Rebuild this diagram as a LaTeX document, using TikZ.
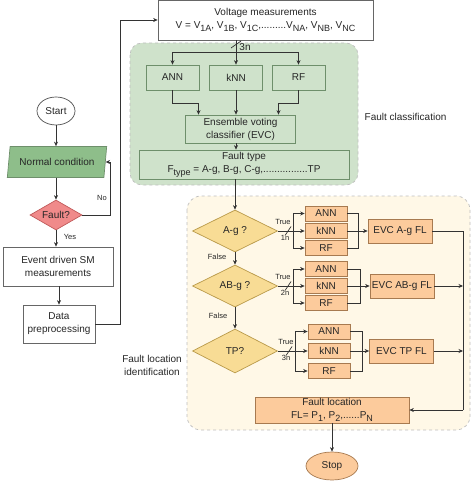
\documentclass[tikz,border=0pt]{standalone}
\usepackage{fontspec}
\setmainfont{Liberation Sans}
\usepackage{tikz}
\usetikzlibrary{shapes.geometric}
\usetikzlibrary{arrows.meta}
\usepackage{xcolor}

\definecolor{grnfill}{HTML}{CFE2CB}
\definecolor{grnline}{HTML}{6E8F6B}
\definecolor{grndark}{HTML}{8EBE8A}
\definecolor{ylwbg}{HTML}{FFF8E7}
\definecolor{ylwfill}{HTML}{F8DC95}
\definecolor{ylwline}{HTML}{B99A4A}
\definecolor{orgfill}{HTML}{FCCB9C}
\definecolor{orgline}{HTML}{A77A50}
\definecolor{redfill}{HTML}{F08A8A}
\definecolor{redline}{HTML}{C05A5A}

\newcommand{\lowsub}[1]{\raisebox{-0.5ex}{\fontsize{9}{9}\selectfont #1}}

\begin{document}
\begin{tikzpicture}[x=1pt, y=-1pt, line width=0.7pt, font=\fontsize{10}{13}\selectfont, text=black!85,
    arr/.style={draw=black!80, -{Stealth[length=4.5pt,width=4pt]}},
    ln/.style={draw=black!80},
    wbox/.style={draw=black!60, fill=white, align=center, inner sep=1pt},
    gbox/.style={draw=grnline, fill=grnfill, align=center, inner sep=1pt},
    obox/.style={draw=orgline, fill=orgfill, align=center, inner sep=1pt},
    mlbox/.style={obox, minimum width=42, minimum height=15},
    evcbox/.style={obox, minimum width=64, minimum height=24},
    ydec/.style={diamond, draw=ylwline, fill=ylwfill, aspect=2, inner sep=0pt, minimum width=85, minimum height=42},
    small/.style={font=\fontsize{7.5}{8}\selectfont}]
    \useasboundingbox (0,0) rectangle (474,486);

    % Regions
    \draw[dashed, draw=black!25, fill=grnfill, rounded corners=12pt] (130,43) rectangle (358,185);
    \draw[dashed, draw=black!25, fill=ylwbg, rounded corners=14pt] (187,196) rectangle (470,430);
    \node[anchor=west] (fclbl) at (361,117) {Fault classification};
    \node[align=center] (fllbl) at (152,365) {Fault location\\identification};

    % Left column
    \node[ellipse, draw=black!70, fill=white, minimum width=38, minimum height=28, inner sep=0pt] (start) at (56,111) {Start};
    \node[trapezium, trapezium left angle=73, trapezium right angle=107, trapezium stretches=true,
          draw=grnline, fill=grndark, minimum width=100, minimum height=31, inner sep=0pt] (normal) at (57,162) {Normal condition};
    \node[diamond, draw=redline, fill=redfill, aspect=1.7, inner sep=0pt, minimum width=52, minimum height=30] (fault) at (56,215) {Fault?};
    \node[wbox, minimum width=110, minimum height=39] (event) at (58,266.5) {Event driven SM\\measurements};
    \node[wbox, minimum width=72, minimum height=38] (prep) at (59,324) {Data\\preprocessing};

    \draw[arr] (start.south) -- (start.south |- normal.north);
    \draw[arr] (normal.south -| fault) -- (fault.north);
    \draw[arr] (fault.south) -- (event.north -| fault);
    \draw[arr] (event.south -| prep) -- (prep.north);
    \draw[arr] (fault.east) -- ++(28,0) |- (normal.east);
    \node[small] (nolbl) at (102,198) {No};
    \node[small] (yeslbl) at (70,237) {Yes};

    % Fault classification
    \node[wbox, minimum width=215, minimum height=40] (volt) at (265.5,20)
        {Voltage measurements\\V = V\lowsub{1A}, V\lowsub{1B}, V\lowsub{1C},.........V\lowsub{NA}, V\lowsub{NB}, V\lowsub{NC}};
    \draw[arr] (prep.east) -- ++(25,0) |- (volt.west);

    \node[gbox, minimum width=53, minimum height=25] (ann) at (172.5,77.5) {ANN};
    \node[gbox, minimum width=53, minimum height=25] (knn) at (236,77.5) {kNN};
    \node[gbox, minimum width=53, minimum height=25] (rf) at (298.5,77.5) {RF};
    \node[gbox, minimum width=110, minimum height=28] (evc) at (240.5,129) {Ensemble voting\\classifier (EVC)};
    \node[gbox, minimum width=210, minimum height=29] (ftype) at (244,164.5)
        {Fault type\\F\lowsub{type} = A-g, B-g, C-g,................TP};

    \coordinate (tap) at (236,52);
    \draw[ln] (volt.south -| tap) -- (tap);
    \draw[arr] (tap) -| (ann.north);
    \draw[arr] (tap) -- (knn.north);
    \draw[arr] (tap) -| (rf.north);
    \draw[ln] (231,48) -- (241,41);
    \node (n3lbl) at (245,47) {3n};
    \draw[arr] (ann.south) -- ++(0,13) -| ([xshift=-42pt]evc.north);
    \draw[arr] (knn.south) -- (knn.south |- evc.north);
    \draw[arr] (rf.south) -- ++(0,13) -| ([xshift=38pt]evc.north);
    \draw[arr] (evc.south -| knn) -- (ftype.north -| knn);

    % Fault location
    \node[ydec] (ag) at (235,231) {A-g ?};
    \node[ydec] (abg) at (235,286) {AB-g ?};
    \node[ydec, minimum height=44] (tp) at (235,351) {TP?};
    \draw[arr] (ftype.south -| ag) -- (ag.north);
    \draw[arr] (ag.south) -- (abg.north);
    \draw[arr] (abg.south) -- (tp.north);
    \node[small] (false1) at (217,257) {False};
    \node[small] (false2) at (218,316) {False};

    \node[obox, minimum width=154, minimum height=26] (floc) at (332,410) {Fault location\\FL= P\lowsub{1}, P\lowsub{2},......P\lowsub{N}};
    \node[ellipse, draw=orgline, fill=orgfill, minimum width=52, minimum height=28, inner sep=0pt] (stop) at (332,466) {Stop};
    \coordinate (bus) at (463,410);

    % A-g branch
    \node[mlbox] (ann1) at (326,213.5) {ANN};
    \node[mlbox] (knn1) at (326,231) {kNN};
    \node[mlbox] (rf1) at (326,248) {RF};
    \node[evcbox] (evc1) at (400,231) {EVC A-g FL};
    \coordinate (s1) at (293,231);
    \coordinate (m1) at (358,231);
    \draw[ln] (ag.east) -- (s1);
    \draw[arr] (s1) |- (ann1.west);
    \draw[arr] (s1) -- (knn1.west);
    \draw[arr] (s1) |- (rf1.west);
    \draw[ln] (285,235.5) -- (291,226.5);
    \node[small] (t1) at (283,222) {True};
    \node[small] (n1) at (285,238) {1n};
    \draw[ln] (ann1.east) -| (m1);
    \draw[ln] (rf1.east) -| (m1);
    \draw[arr] (knn1.east) -- (evc1.west);

    % AB-g branch
    \node[mlbox] (ann2) at (326,269) {ANN};
    \node[mlbox] (knn2) at (326,286) {kNN};
    \node[mlbox] (rf2) at (326,303) {RF};
    \node[evcbox] (evc2) at (402,286) {EVC AB-g FL};
    \coordinate (s2) at (293,286);
    \coordinate (m2) at (360,286);
    \draw[ln] (abg.east) -- (s2);
    \draw[arr] (s2) |- (ann2.west);
    \draw[arr] (s2) -- (knn2.west);
    \draw[arr] (s2) |- (rf2.west);
    \draw[ln] (285,290.5) -- (291,281.5);
    \node[small] (t2) at (283,277) {True};
    \node[small] (n2) at (285,293) {2n};
    \draw[ln] (ann2.east) -| (m2);
    \draw[ln] (rf2.east) -| (m2);
    \draw[arr] (knn2.east) -- (evc2.west);

    % TP branch
    \node[mlbox] (ann3) at (329,331.5) {ANN};
    \node[mlbox] (knn3) at (329,351) {kNN};
    \node[mlbox] (rf3) at (329,371) {RF};
    \node[evcbox] (evc3) at (401.5,351) {EVC TP FL};
    \coordinate (s3) at (295,351);
    \coordinate (m3) at (362,351);
    \draw[ln] (tp.east) -- (s3);
    \draw[arr] (s3) |- (ann3.west);
    \draw[arr] (s3) -- (knn3.west);
    \draw[arr] (s3) |- (rf3.west);
    \draw[ln] (286,355.5) -- (292,346.5);
    \node[small] (t3) at (286,342) {True};
    \node[small] (n3) at (286,358) {3n};
    \draw[ln] (ann3.east) -| (m3);
    \draw[ln] (rf3.east) -| (m3);
    \draw[arr] (knn3.east) -- (evc3.west);

    % Collect to fault location
    \draw[ln] (evc1.east) -| (bus);
    \draw[arr] (evc2.east) -- (evc2.east -| bus);
    \draw[arr] (evc3.east) -- (evc3.east -| bus);
    \draw[arr] (bus) -- (floc.east);
    \draw[arr] (floc.south) -- (stop.north);
\end{tikzpicture}
\end{document}
